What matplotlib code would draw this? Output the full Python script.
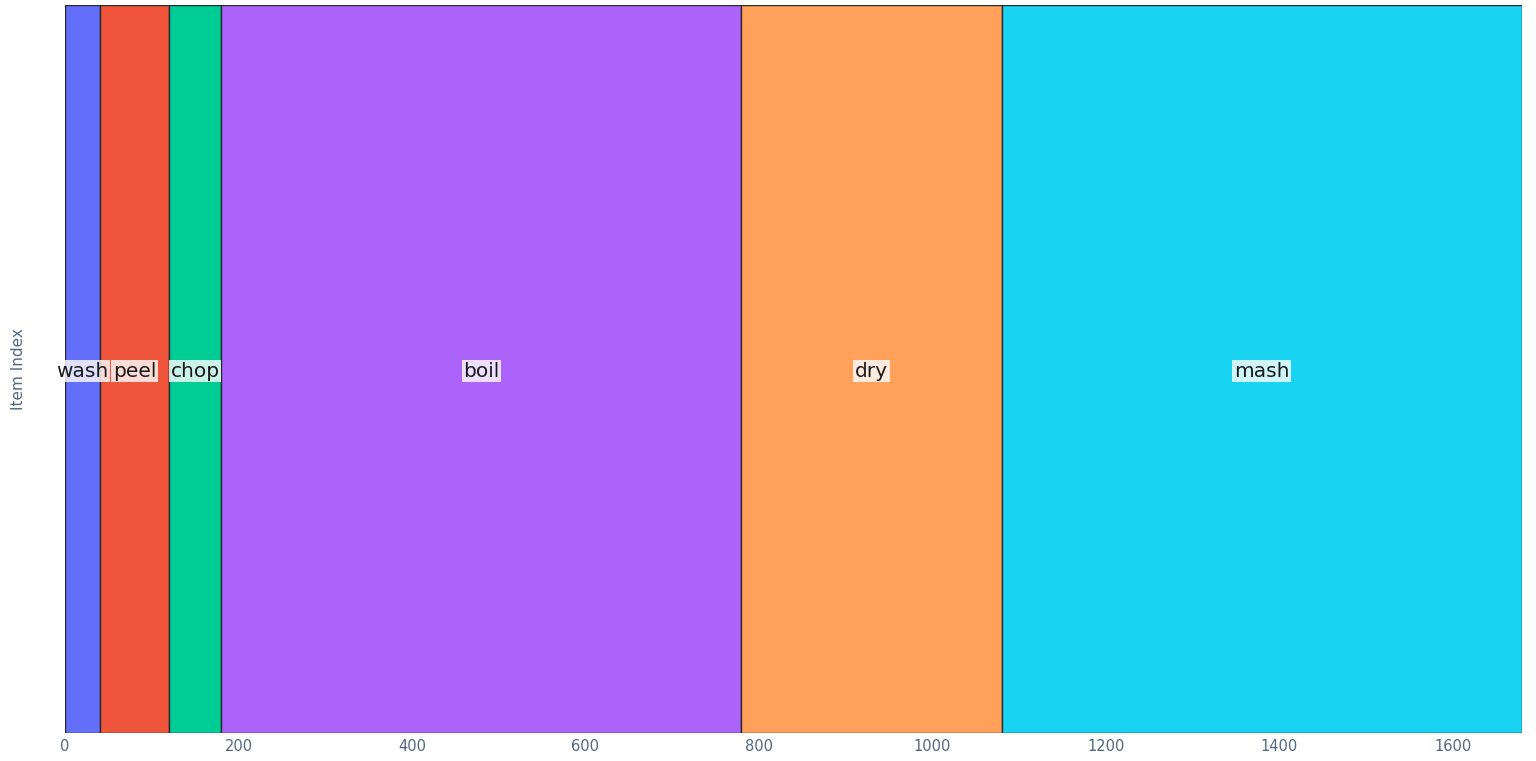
import matplotlib
matplotlib.use('Agg')
import matplotlib.pyplot as plt

# Task segments (start, duration)
tasks = ['wash', 'peel', 'chop', 'boil', 'dry', 'mash']
starts = [0, 40, 120, 180, 780, 1080]
durations = [40, 80, 60, 600, 300, 600]
colors = ['#636efa', '#EF553B', '#00cc96', '#ab63fa', '#FFA15A', '#19d3f3']
x_ticks = [0, 200, 400, 600, 800, 1000, 1200, 1400, 1600]

fig = plt.figure(figsize=(15.36, 7.61), dpi=100)
ax = fig.add_axes([65 / 1536, 1 - 733 / 761, (1522 - 65) / 1536, 728 / 761])

ax.barh([0] * len(tasks), durations, left=starts, height=1.0, color=colors,
        edgecolor='#2a2a2a', linewidth=1.0)

for name, s, d in zip(tasks, starts, durations):
    ax.text(s + d / 2, -0.003, name, ha='center', va='center', fontsize=14.5,
            color='#1a1a1a', family='DejaVu Sans',
            bbox=dict(boxstyle='square,pad=0.08', facecolor='white',
                      edgecolor='none', alpha=0.8))

ax.set_xlim(0, 1680)
ax.set_ylim(-0.5, 0.5)
ax.set_xticks(x_ticks)
ax.set_yticks([])
ax.tick_params(axis='x', length=0, labelsize=10.5, colors='#506784', pad=4)
ax.set_ylabel('Item Index', color='#506784', fontsize=11, labelpad=28)
for sp in ax.spines.values():
    sp.set_visible(False)

fig.savefig('out.png', dpi=100)
